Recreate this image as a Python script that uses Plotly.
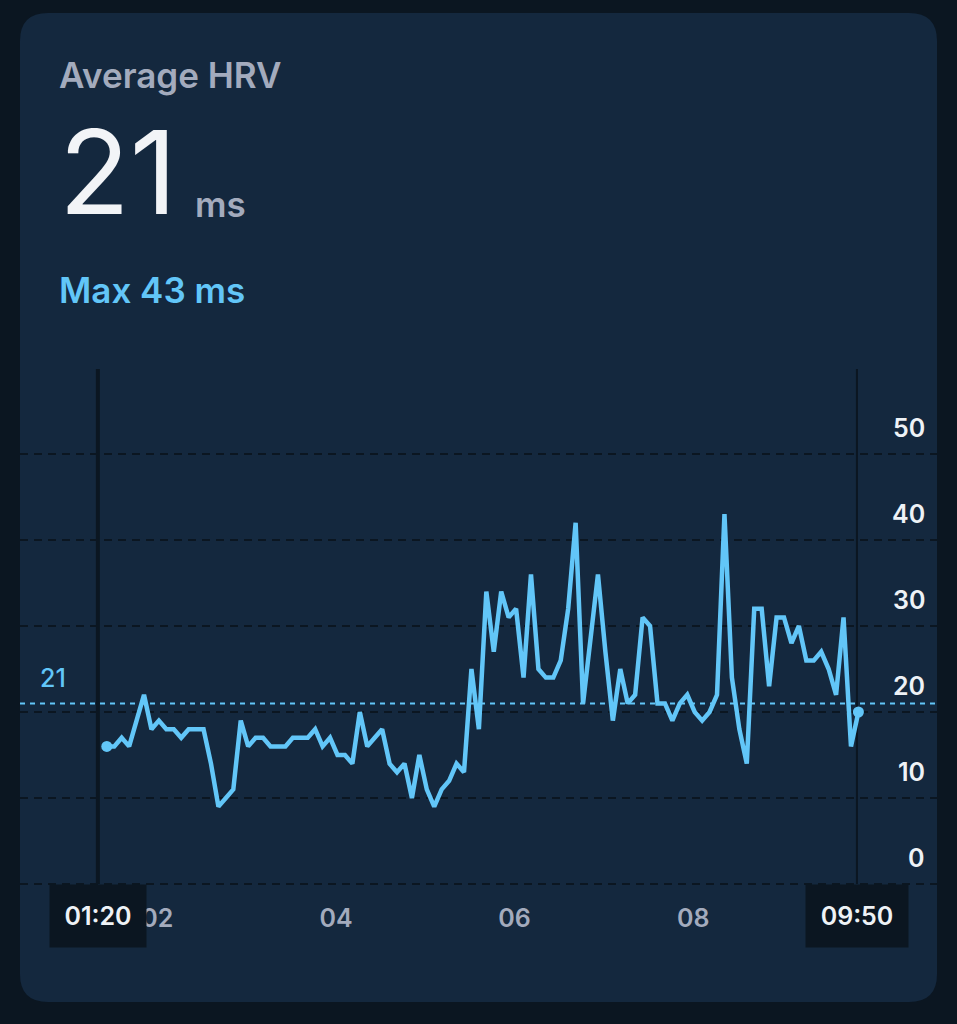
import plotly.graph_objects as go
import pandas as pd

W, H = 957, 1024

DAY = "2024-01-01"
START = "01:26"
STEP_MIN = 5
# HRV readings in ms, one every 5 minutes
HRV = [16, 16, 17, 16, 19, 22, 18, 19, 18, 18, 17, 18, 18, 18, 14, 9, 10, 11, 19, 16,
       17, 17, 16, 16, 16, 17, 17, 17, 18, 16, 17, 15, 15, 14, 20, 16, 17, 18, 14, 13,
       14, 10, 15, 11, 9, 11, 12, 14, 13,
       25, 18, 34, 27, 34, 31, 32, 24, 36, 25, 24, 24, 26, 32, 42, 21, 28, 36, 27, 19,
       25, 21, 22, 31, 30, 21, 21, 19, 21, 22, 20, 19, 20, 22, 43, 24, 18, 14, 32, 32,
       23, 31, 31, 28, 30, 26, 26, 27, 25, 22, 31, 16, 20]
AVG_HRV = 21
MAX_HRV = 43
Y_TICKS = [0, 10, 20, 30, 40, 50]
X_TICKS = ["02:00", "04:00", "06:00", "08:00"]
X_TICK_TEXT = ["02", "04", "06", "08"]
WINDOW = ["01:20", "09:50"]
WINDOW_BOX_W = [96, 102]

BG = "#0b1621"
CARD = "#14283e"
BLUE = "#62c6f8"
GREY = "#a3abbd"
WHITE = "#eef2f6"
FONT = "Inter"


def X(x):
    return x / W


def Y(y):
    return 1 - y / H


def rounded_rect(x0, y0, x1, y1, r):
    return (f"M {X(x0 + r)},{Y(y0)} L {X(x1 - r)},{Y(y0)} Q {X(x1)},{Y(y0)} {X(x1)},{Y(y0 + r)} "
            f"L {X(x1)},{Y(y1 - r)} Q {X(x1)},{Y(y1)} {X(x1 - r)},{Y(y1)} "
            f"L {X(x0 + r)},{Y(y1)} Q {X(x0)},{Y(y1)} {X(x0)},{Y(y1 - r)} "
            f"L {X(x0)},{Y(y0 + r)} Q {X(x0)},{Y(y0)} {X(x0 + r)},{Y(y0)} Z")


times = pd.date_range(f"{DAY} {START}", periods=len(HRV), freq=f"{STEP_MIN}min")

# time scale: 04:00 sits at 336px, 89.3px per hour
px_per_h = 89.3
t4 = pd.Timestamp(f"{DAY} 04:00")
x_left = (t4 - pd.Timedelta(hours=(336 - 20) / px_per_h)).round("s")
x_right = (t4 + pd.Timedelta(hours=(937 - 336) / px_per_h)).round("s")

# value scale: 0 at 884px, 8.6px per ms
px_per_ms = 8.6
y_low = -(887 - 884) / px_per_ms
y_high = (884 - 369) / px_per_ms

fig = go.Figure()

fig.add_trace(go.Scatter(
    x=times, y=HRV, mode="lines",
    line=dict(color=BLUE, width=4.5), hoverinfo="skip", showlegend=False,
))
fig.add_trace(go.Scatter(
    x=[times[0], times[-1]], y=[HRV[0], HRV[-1]], mode="markers",
    marker=dict(color=BLUE, size=11), hoverinfo="skip", showlegend=False,
))

shapes = [
    dict(type="path", path=rounded_rect(20, 13, 937, 1002, 28), xref="paper", yref="paper",
         fillcolor=CARD, line=dict(width=0), layer="below"),
    dict(type="line", xref="paper", yref="y", x0=X(20), x1=X(937), y0=AVG_HRV, y1=AVG_HRV,
         line=dict(color=BLUE, width=2, dash="5px,5px"), layer="below"),
]
for t, w in zip(WINDOW, [4, 2]):
    shapes.append(dict(type="line", xref="x", yref="paper", x0=f"{DAY} {t}", x1=f"{DAY} {t}",
                       y0=Y(884), y1=Y(369), line=dict(color=BG, width=w), layer="below"))

annotations = [
    dict(text="Average HRV", x=X(57), y=Y(75), xanchor="left", yanchor="middle",
         font=dict(family=FONT, size=35, color=GREY, weight=600)),
    dict(text=f"{AVG_HRV}", x=X(57), y=Y(172), xanchor="left", yanchor="middle",
         font=dict(family=FONT, size=116, color="#f2f4f7", weight=400)),
    dict(text="ms", x=X(193), y=Y(204), xanchor="left", yanchor="middle",
         font=dict(family=FONT, size=35, color=GREY, weight=600)),
    dict(text=f"Max {MAX_HRV} ms", x=X(57), y=Y(290), xanchor="left", yanchor="middle",
         font=dict(family=FONT, size=35, color=BLUE, weight=600)),
    dict(text=f"{AVG_HRV}", xref="paper", yref="y", x=X(53), y=AVG_HRV, yshift=25,
         xanchor="center", yanchor="middle",
         font=dict(family=FONT, size=25, color=BLUE, weight=500)),
]
for v in Y_TICKS:
    annotations.append(dict(text=str(v), xref="paper", yref="y", x=X(927), y=v, yshift=26,
                            xanchor="right", yanchor="middle",
                            font=dict(family=FONT, size=25, color=WHITE, weight=600)))
for t, w in zip(WINDOW, WINDOW_BOX_W):
    annotations.append(dict(text=t, xref="x", yref="paper", x=f"{DAY} {t}", y=Y(916),
                            xanchor="center", yanchor="middle", width=w, height=62,
                            bgcolor=BG, borderpad=0,
                            font=dict(family=FONT, size=25, color=WHITE, weight=600)))
for a in annotations:
    a.setdefault("xref", "paper")
    a.setdefault("yref", "paper")
    a["showarrow"] = False

fig.update_layout(
    width=W, height=H,
    margin=dict(l=0, r=0, t=0, b=0),
    paper_bgcolor=BG, plot_bgcolor="rgba(0,0,0,0)",
    shapes=shapes, annotations=annotations,
    xaxis=dict(domain=[X(20), X(937)], range=[x_left, x_right], type="date",
               tickvals=[f"{DAY} {t}" for t in X_TICKS], ticktext=X_TICK_TEXT,
               showgrid=False, zeroline=False, showline=False, ticks="",
               ticklabelstandoff=14,
               tickfont=dict(family=FONT, size=25, color=GREY, weight=600)),
    yaxis=dict(domain=[Y(887), Y(369)], range=[y_low, y_high],
               tickvals=Y_TICKS, showticklabels=False, ticks="",
               showgrid=True, gridcolor=BG, gridwidth=2, griddash="8px,6px",
               zeroline=False, showline=False),
)

fig.write_html("out.html", config={"displayModeBar": False},
               post_script="document.body.style.margin = '0';")
